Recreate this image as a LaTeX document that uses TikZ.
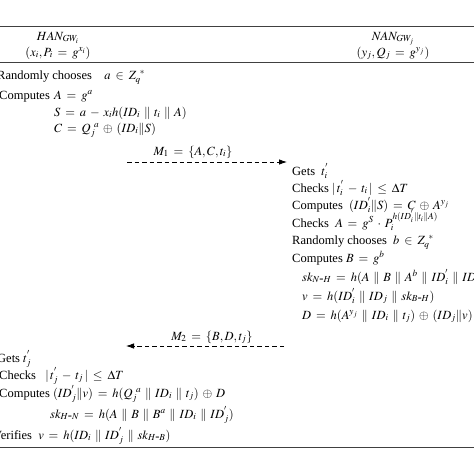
\documentclass[tikz,border=0pt]{standalone}
\usepackage{amsmath}
\usepackage{mathptmx}
\usepackage{fontspec}
\setmainfont{Liberation Serif}
\usetikzlibrary{arrows.meta}
\tikzset{
  txt/.style={inner sep=0pt, anchor=base west, font=\fontsize{12.5}{15}\selectfont\mathspacing},
  ctr/.style={inner sep=0pt, anchor=base, font=\fontsize{12.5}{15}\selectfont\mathspacing},
  rule/.style={draw=black!75, line width=1pt},
  msg/.style={dashed, dash pattern=on 4.5pt off 3pt, line width=0.8pt, -{Latex[length=8pt,width=5.5pt]}}
}
\newcommand{\mathspacing}{\medmuskip=5.5mu\thickmuskip=7mu}
\newcommand{\pp}{\mathbin{\|}}
\begin{document}
\begin{tikzpicture}[x=1pt,y=-1pt]
\useasboundingbox (0,0) rectangle (474,474);
% rules
\coordinate (t0) at (0,26); \coordinate (t1) at (474,26);
\coordinate (h0) at (0,62); \coordinate (h1) at (474,62);
\coordinate (b0) at (0,447); \coordinate (b1) at (474,447);
\draw[rule] (t0) -- (t1);
\draw[rule] (h0) -- (h1);
\draw[rule] (b0) -- (b1);
% headers
\node[ctr] (han) at (58,40) {$HAN_{GW_i}$};
\node[ctr] (hanp) at (58,56) {$(x_i, P_i = g^{x_i})$};
\node[ctr] (nan) at (393,40) {$NAN_{GW_j}$};
\node[ctr] (nanp) at (393,56) {$(y_j, Q_j = g^{y_j})$};
% left block
\node[txt] (l1) at (-3,79) {Randomly chooses\quad $a\in Z_q^{\;*}$};
\node[txt] (l2a) at (-1,99) {Computes};
\node[txt] (l2) at (54,99) {$A=g^a$};
\node[txt] (l3) at (54,116) {$S=a-x_i h(ID_i\pp t_i\pp A)$};
\node[txt] (l4) at (54,132) {$C=Q_j^{\;a}\oplus(ID_i\|S)$};
% message 1
\node[ctr] (m1) at (193,155) {$M_1=\{A,C,t_i\}$};
\coordinate (m1s) at (127,162);
\coordinate (m1e) at (287,162);
\draw[msg] (m1s) -- (m1e);
% right block
\node[txt] (r1) at (292,175) {Gets\ \ $t_i^{'}$};
\node[txt] (r2) at (292,192) {Checks $|\,t_i^{'}-t_i\,|\le\Delta T$};
\node[txt] (r3) at (292,209) {Computes\ \ $(ID_i^{'}\|S)=C\oplus A^{y_j}$};
\node[txt] (r4) at (292,227) {Checks\ \ $A=g^S\cdot P_i^{h(ID_i^{'}\|t_i\|A)}$};
\node[txt] (r5) at (292,244) {Randomly chooses\ \ $b\in Z_q^{\;*}$};
\node[txt] (r6) at (292,262) {Computes $B=g^b$};
\node[txt] (r7) at (302,281) {$sk_{N\mbox{-}H}=h(A\pp B\pp A^b\pp ID_i^{'}\pp ID_j^{'})$};
\node[txt] (r8) at (302,300) {$v=h(ID_i^{'}\pp ID_j\pp sk_{B\mbox{-}H})$};
\node[txt] (r9) at (302,319) {$D=h(A^{y_j}\pp ID_i\pp t_j)\oplus(ID_j\|v)$};
% message 2
\node[ctr] (m2) at (212,340) {$M_2=\{B,D,t_j\}$};
\coordinate (m2s) at (284,346);
\coordinate (m2e) at (126,346);
\draw[msg] (m2s) -- (m2e);
% left bottom block
\node[txt] (k1) at (-3,362) {Gets\ $t_j^{'}$};
\node[txt] (k2) at (-1,379) {Checks\ \ \ $|\,t_j^{'}-t_j\,|\le\Delta T$};
\node[txt] (k3) at (-1,397) {Computes $(ID_j^{'}\|v)=h(Q_j^{\;a}\pp ID_i\pp t_j)\oplus D$};
\node[txt] (k4) at (50,418) {$sk_{H\mbox{-}N}=h(A\pp B\pp B^a\pp ID_i\pp ID_j^{'})$};
\node[txt] (k5) at (-7,439) {Verifies\ \ $v=h(ID_i\pp ID_j^{'}\pp sk_{H\mbox{-}B})$};
\end{tikzpicture}
\end{document}
